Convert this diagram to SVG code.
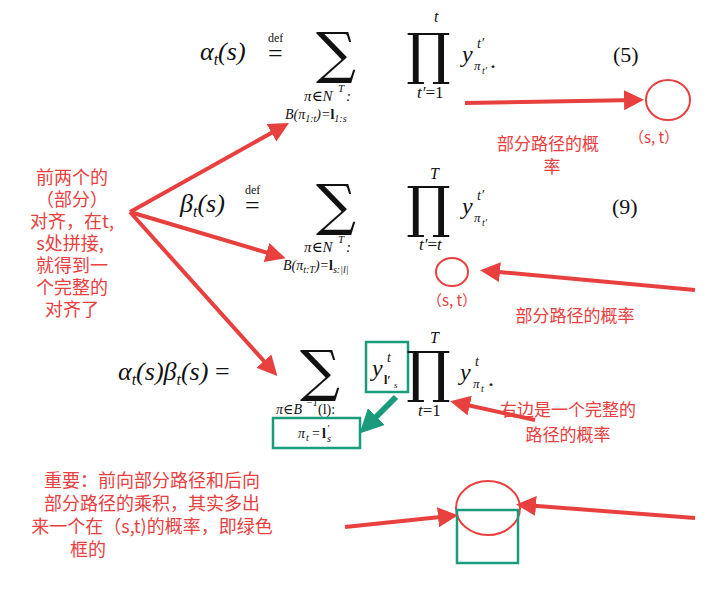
<svg xmlns="http://www.w3.org/2000/svg" width="720" height="594" viewBox="0 0 720 594">
<style>
.m{font-family:"Liberation Serif","DejaVu Serif",serif;font-style:italic;fill:#111}
.r{font-family:"Liberation Serif","DejaVu Serif",serif;fill:#111}
.big{font-family:"DejaVu Serif",serif;fill:#111}
.cn{font-family:"Noto Sans CJK SC","Liberation Sans",sans-serif;font-size:17px;fill:#e8403f;stroke:#fff;stroke-width:3;paint-order:stroke;text-anchor:middle}
.ra{stroke:#e8403f;stroke-width:4;fill:none;marker-end:url(#ah)}
.rs{stroke:#e8403f;stroke-width:2;fill:none}
.gs{stroke:#1a9b7c;stroke-width:2.5;fill:none}
</style>
<defs>
<marker id="ah" markerWidth="5" markerHeight="5" refX="3" refY="2.5" orient="auto"><path d="M0,0L5,2.5L0,5z" fill="#e8403f"/></marker>
<marker id="gh" markerWidth="4" markerHeight="4" refX="2" refY="2" orient="auto"><path d="M0,0L4,2L0,4z" fill="#1a9b7c"/></marker>
</defs>
<rect width="720" height="594" fill="#fff"/>
<g id="eq5">
<text x="200" y="60" class="m" font-size="26">α<tspan font-size="16" dy="5">t</tspan><tspan dy="-5">(s)</tspan></text>
<text x="268" y="62" class="r" font-size="26">=</text><text x="268" y="42" class="r" font-size="12">def</text>
<text x="316" y="72" class="big" font-size="56">∑</text>
<text x="304" y="101" class="m" font-size="15">π∈N</text><text x="338" y="92" class="m" font-size="11">T</text><text x="346" y="101" class="m" font-size="15">:</text>
<text x="285" y="119" class="m" font-size="14">B(π<tspan font-size="10" dy="3">1:t</tspan><tspan dy="-3">)=</tspan><tspan font-weight="bold" font-style="normal">l</tspan><tspan font-size="10" dy="3">1:s</tspan></text>
<text x="434" y="22" class="m" font-size="16">t</text>
<text x="406" y="73" class="big" font-size="56">∏</text>
<text x="417" y="98" class="m" font-size="17">t′<tspan font-style="normal">=1</tspan></text>
<text x="462" y="62" class="m" font-size="24">y</text>
<text x="477" y="48" class="m" font-size="14">t′</text>
<text x="474" y="70" class="m" font-size="13">π</text>
<text x="482" y="74" class="m" font-size="10">t′</text>
<text x="490" y="68" class="r" font-size="24">.</text>
<text x="613" y="62" class="r" font-size="22">(5)</text>
</g>
<g id="eq9">
<text x="180" y="212" class="m" font-size="26">β<tspan font-size="16" dy="5">t</tspan><tspan dy="-5">(s)</tspan></text>
<text x="245" y="214" class="r" font-size="26">=</text><text x="245" y="194" class="r" font-size="12">def</text>
<text x="316" y="224" class="big" font-size="56">∑</text>
<text x="304" y="252" class="m" font-size="15">π∈N</text><text x="338" y="243" class="m" font-size="11">T</text><text x="346" y="252" class="m" font-size="15">:</text>
<text x="283" y="270" class="m" font-size="14">B(π<tspan font-size="10" dy="3">t:T</tspan><tspan dy="-3">)=</tspan><tspan font-weight="bold" font-style="normal">l</tspan><tspan font-size="10" dy="3">s:|l|</tspan></text>
<text x="430" y="179" class="m" font-size="16">T</text>
<text x="406" y="226" class="big" font-size="56">∏</text>
<text x="419" y="250" class="m" font-size="17">t′<tspan font-style="normal">=</tspan>t</text>
<text x="462" y="214" class="m" font-size="24">y</text>
<text x="477" y="200" class="m" font-size="14">t′</text>
<text x="474" y="222" class="m" font-size="13">π</text>
<text x="482" y="226" class="m" font-size="10">t′</text>
<text x="612" y="214" class="r" font-size="22">(9)</text>
</g>
<g id="eq3">
<text x="118" y="380" class="m" font-size="26">α<tspan font-size="16" dy="5">t</tspan><tspan dy="-5">(s)β</tspan><tspan font-size="16" dy="5">t</tspan><tspan dy="-5">(s)</tspan><tspan font-style="normal"> =</tspan></text>
<text x="300" y="390" class="big" font-size="56">∑</text>
<text x="276" y="414" class="m" font-size="14">π∈B</text><text x="306" y="406" class="m" font-size="10">−1</text><text x="318" y="414" class="r" font-size="14">(l):</text>
<rect x="273" y="418" width="87" height="30" class="gs"/>
<text x="298" y="438" class="m" font-size="14">π</text><text x="306" y="441" class="m" font-size="10">t</text>
<text x="312" y="438" class="r" font-size="14">=</text><text x="322" y="438" class="r" font-size="14" font-weight="bold">l</text>
<text x="327" y="432" class="m" font-size="10">′</text><text x="327" y="442" class="m" font-size="10">s</text>
<rect x="366" y="342" width="42" height="50" class="gs"/>
<text x="372" y="376" class="m" font-size="24">y</text>
<text x="387" y="362" class="m" font-size="14">t</text>
<text x="384" y="384" class="r" font-size="12" font-weight="bold">l′</text>
<text x="394" y="388" class="m" font-size="9">s</text>
<text x="430" y="343" class="m" font-size="16">T</text>
<text x="406" y="391" class="big" font-size="56">∏</text>
<text x="418" y="416" class="m" font-size="17">t<tspan font-style="normal">=1</tspan></text>
<text x="460" y="380" class="m" font-size="24">y</text>
<text x="475" y="366" class="m" font-size="14">t</text>
<text x="473" y="388" class="m" font-size="13">π</text>
<text x="481" y="392" class="m" font-size="10">t</text>
<text x="488" y="386" class="r" font-size="24">.</text>
</g>
<g id="left-note">
<text class="cn" style="font-size:18px"><tspan x="72" y="184">前两个的</tspan><tspan x="72" y="206">（部分）</tspan><tspan x="72" y="228">对齐，在t,</tspan><tspan x="70" y="250">s处拼接,</tspan><tspan x="72" y="272">就得到一</tspan><tspan x="72" y="294">个完整的</tspan><tspan x="72" y="316">对齐了</tspan></text>
</g>
<g id="circle1">
<ellipse cx="668" cy="100" rx="22" ry="20" class="rs"/>
<text x="654" y="143" class="cn" style="font-size:15px">（s, t）</text>
<text class="cn"><tspan x="548" y="150">部分路径的概</tspan><tspan x="552" y="173">率</tspan></text>
</g>
<g id="circle2">
<ellipse cx="452" cy="272" rx="16" ry="14" class="rs"/>
<text x="452" y="306" class="cn" style="font-size:15px">（s, t）</text>
<text x="575" y="322" class="cn">部分路径的概率</text>
</g>
<g id="right-note">
<text class="cn"><tspan x="568" y="416">右边是一个完整的</tspan><tspan x="568" y="441">路径的概率</tspan></text>
</g>
<g id="bottom-note">
<text class="cn" style="font-size:18px"><tspan x="152" y="487">重要：前向部分路径和后向</tspan><tspan x="152" y="510">部分路径的乘积，其实多出</tspan><tspan x="152" y="533">来一个在（s,t)的概率，即绿色</tspan><tspan x="88" y="556">框的</tspan></text>
<ellipse cx="488" cy="508" rx="32" ry="27" class="rs"/>
<rect x="457" y="510" width="61" height="53" class="gs"/>
</g>
<g id="connectors">
<path d="M130,212L282,127" class="ra"/>
<path d="M130,212L278,256" class="ra"/>
<path d="M130,212L272,370" class="ra"/>
<path d="M465,103L636,100" class="ra"/>
<path d="M695,290L488,271" class="ra"/>
<path d="M535,420L458,403" class="ra"/>
<path d="M345,527L450,516" class="ra"/>
<path d="M695,518L524,505" class="ra"/>
<path d="M396,397L368,425" stroke="#1a9b7c" stroke-width="6" fill="none" marker-end="url(#gh)"/>
</g>
</svg>
